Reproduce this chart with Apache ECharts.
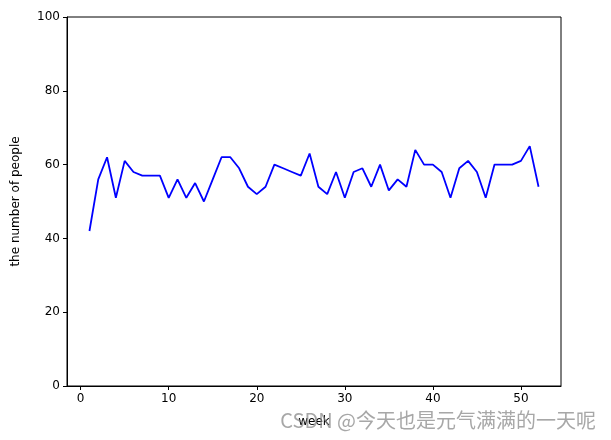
<!DOCTYPE html>
<html>
<head>
<meta charset="utf-8">
<script src="https://cdn.jsdelivr.net/npm/echarts@6/dist/echarts.min.js"></script>
<style>html,body{margin:0;padding:0;background:#fff}#c{width:611px;height:440px}</style>
</head>
<body>
<div id="c"></div>
<script>
const weeks = [1,2,3,4,5,6,7,8,9,10,11,12,13,14,15,16,17,18,19,20,21,22,23,24,25,26,27,28,29,30,31,32,33,34,35,36,37,38,39,40,41,42,43,44,45,46,47,48,49,50,51,52];
const people = [42,56,62,51,61,58,57,57,57,51,56,51,55,50,56,62,62,59,54,52,54,60,59,58,57,63,54,52,58,51,58,59,54,60,53,56,54,64,60,60,58,51,59,61,58,51,60,60,60,61,65,54];
const xTicks = [0,10,20,30,40,50];
const yTicks = [0,20,40,60,80,100];

const chart = echarts.init(document.getElementById('c'), null, {renderer:'canvas'});
const font = 'DejaVu Sans';
chart.setOption({
  animation:false,
  backgroundColor:'#fff',
  grid:{left:67,right:50,top:17,bottom:54,show:true,borderColor:'#000',borderWidth:1,backgroundColor:'transparent'},
  xAxis:{
    type:'value', min:-1.55, max:54.55,
    name:'week', nameLocation:'middle', nameGap:30,
    nameTextStyle:{fontFamily:font,fontSize:12,color:'#000'},
    axisLine:{show:true,onZero:false,lineStyle:{color:'#000',width:1}},
    axisTick:{show:true,customValues:xTicks,length:4,lineStyle:{color:'#000'}},
    axisLabel:{customValues:xTicks,fontFamily:font,fontSize:12,color:'#000',margin:7},
    splitLine:{show:false}
  },
  yAxis:{
    type:'value', min:0, max:100, interval:20,
    name:'the number of people', nameLocation:'middle', nameGap:45,
    nameTextStyle:{fontFamily:font,fontSize:12,color:'#000'},
    axisLine:{show:true,onZero:false,lineStyle:{color:'#000',width:1}},
    axisTick:{show:true,length:4,lineStyle:{color:'#000'}},
    axisLabel:{fontFamily:font,fontSize:12,color:'#000',margin:7,
      customValues:yTicks},
    splitLine:{show:false}
  },
  series:[{
    type:'line',
    data:weeks.map((w,i)=>[w,people[i]]),
    showSymbol:false,
    lineStyle:{color:'#0000ff',width:1.8},
    itemStyle:{color:'#0000ff'}
  }],
  graphic:[{
    type:'text', right:15, top:410, z:100,
    style:{text:'CSDN @今天也是元气满满的一天呢',fontFamily:'"Noto Sans CJK SC", "DejaVu Sans"',fontSize:20,fill:'rgba(130,130,130,0.7)'}
  }]
});
</script>
</body>
</html>
